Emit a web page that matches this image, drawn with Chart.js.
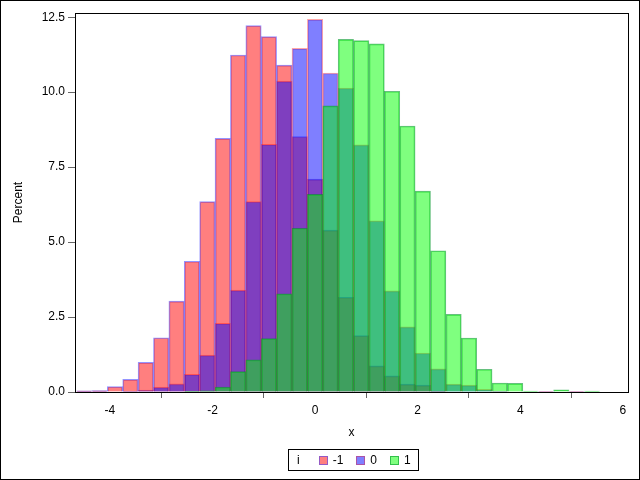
<!DOCTYPE html>
<html>
<head>
<meta charset="utf-8">
<script src="https://cdn.jsdelivr.net/npm/chart.js@4.4.1/dist/chart.umd.min.js"></script>
<style>
   body { margin: 0; background: #ffffff; }
   #wrap { position: relative; width: 640px; height: 480px; }
   #legend {
      position: absolute; left: 288px; top: 449px; height: 20px; width: 129px;
      border: 1px solid #000000; box-sizing: content-box;
      display: flex; align-items: center;
      font-family: "Liberation Sans", Arial, sans-serif; font-size: 12px; color: #000000;
   }
   #legend .title { margin-left: 8px; margin-right: 19px; }
   #legend .swatch { width: 7px; height: 7px; margin-right: 5px; }
   #legend .item { display: flex; align-items: center; margin-right: 13px; }
</style>
</head>
<body>
<div id="wrap">
   <canvas id="histChart" width="640" height="480"></canvas>
   <div id="legend"></div>
</div>
<script>
// bin midpoints (width 0.3)
const binCenters = [-4.5, -4.2, -3.9, -3.6, -3.3, -3.0, -2.7, -2.4, -2.1, -1.8, -1.5, -1.2,
   -0.9, -0.6, -0.3, 0, 0.3, 0.6, 0.9, 1.2, 1.5, 1.8, 2.1, 2.4, 2.7, 3.0, 3.3, 3.6, 3.9,
   4.2, 4.5, 4.8, 5.1, 5.4];

const groupNames = ["-1", "0", "1"];

// percent per bin, one list per group
const pctMinus1 = [0.04, 0.05, 0.18, 0.42, 0.99, 1.81, 3.03, 4.36, 6.35, 8.46, 11.24, 12.22,
   11.85, 10.90, 8.52, 7.10, 5.40, 3.16, 1.88, 0.87, 0.54, 0.26, 0.23, 0.03, 0, 0, 0, 0, 0,
   0, 0.02, 0, 0.02, 0];
const pctZero = [0.02, 0.03, 0, 0.02, 0.06, 0.16, 0.27, 0.59, 1.23, 2.29, 3.40, 6.35,
   8.26, 10.37, 11.46, 12.43, 10.64, 10.14, 8.24, 5.71, 3.37, 2.17, 1.30, 0.77, 0.26, 0.23, 0.09, 0.02, 0,
   0, 0, 0, 0, 0];
const pctOne = [0, 0, 0, 0, 0, 0, 0, 0.02, 0.04, 0.16, 0.68, 1.07,
   1.78, 3.27, 5.46, 6.59, 9.54, 11.76, 11.72, 11.61, 10.03, 8.87, 6.70, 4.71, 2.59, 1.80, 0.76, 0.30, 0.29,
   0.03, 0, 0.07, 0, 0.03];

const xTicks = [-4, -2, 0, 2, 4, 6];
const yTicks = [0, 2.5, 5, 7.5, 10, 12.5];

const fillColors = ["rgba(255, 0, 0, 0.5)", "rgba(0, 0, 255, 0.5)", "rgba(0, 255, 0, 0.5)"];
const lineColors = ["rgba(60, 60, 255, 0.55)", "rgba(255, 0, 0, 0.35)", "rgba(0, 150, 40, 0.6)"];

function toPoints(values) {
   return binCenters.map((c, i) => ({ x: c, y: values[i] }));
}

const frame = {
   id: "frame",
   afterDraw(chart) {
      const ctx = chart.ctx;
      const a = chart.chartArea;
      ctx.save();
      ctx.strokeStyle = "#000000";
      ctx.lineWidth = 1;
      ctx.strokeRect(Math.round(a.left) + 0.5, Math.round(a.top) + 0.5,
         Math.round(a.right - a.left), Math.round(a.bottom - a.top));
      ctx.strokeRect(0.5, 0.5, 639, 479);
      ctx.restore();
   }
};

document.addEventListener("DOMContentLoaded", function () {
   const allSeries = [pctMinus1, pctZero, pctOne];
   const datasets = allSeries.map((vals, i) => ({
      label: groupNames[i],
      data: toPoints(vals),
      backgroundColor: fillColors[i],
      borderColor: lineColors[i],
      borderWidth: 1,
      barPercentage: 1,
      categoryPercentage: 1,
      grouped: false,
      order: 3 - i
   }));

   const tickFont = { family: "'Liberation Sans', Arial, sans-serif", size: 12 };

   new Chart(document.getElementById("histChart"), {
      type: "bar",
      data: { datasets: datasets },
      options: {
         responsive: false,
         animation: false,
         layout: { padding: { top: 13, right: 12, bottom: 40, left: 0 } },
         plugins: { legend: { display: false }, tooltip: { enabled: false } },
         scales: {
            x: {
               type: "linear",
               min: -4.68,
               max: 6.1,
               offset: false,
               afterBuildTicks: s => { s.ticks = xTicks.map(v => ({ value: v })); },
               afterFit: s => { s.height = 48; },
               grid: { drawOnChartArea: false, tickLength: 6, tickColor: "#666666" },
               border: { color: "#000000" },
               ticks: { font: tickFont, color: "#000000", padding: 5, maxRotation: 0 },
               title: { display: true, text: "x", font: tickFont, color: "#000000", padding: 0 }
            },
            y: {
               min: 0,
               max: 12.64,
               afterBuildTicks: s => { s.ticks = yTicks.map(v => ({ value: v })); },
               afterFit: s => { s.width = 75; },
               grid: { drawOnChartArea: false, tickLength: 7, tickColor: "#666666" },
               border: { color: "#000000" },
               ticks: { font: tickFont, color: "#000000", padding: 3, callback: v => v.toFixed(1) },
               title: { display: true, text: "Percent", font: tickFont, color: "#000000", padding: { top: 11, bottom: 0 } }
            }
         }
      },
      plugins: [frame]
   });

   let legend = document.getElementById("legend");
   let t = document.createElement("span");
   t.className = "title";
   t.textContent = "i";
   legend.appendChild(t);
   groupNames.forEach((name, i) => {
      let item = document.createElement("span");
      item.className = "item";
      item.innerHTML = `<span class="swatch" style="background:${fillColors[i]};border:1px solid ${lineColors[i]}"></span><span>${name}</span>`;
      legend.appendChild(item);
   });
});
</script>
</body>
</html>
